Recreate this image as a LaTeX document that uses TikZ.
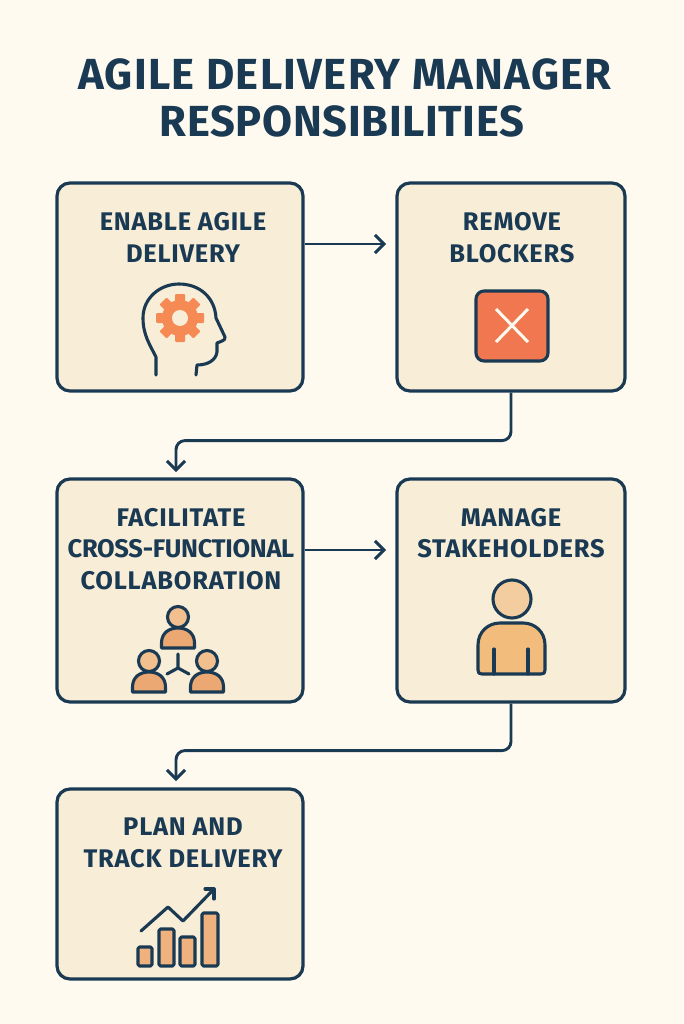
\documentclass[tikz,border=0pt]{standalone}
\usepackage{fontspec}
\setmainfont{Fira Sans}[LetterSpace=3]
\usetikzlibrary{positioning, arrows.meta}
\definecolor{navy}{HTML}{1A3A54}
\definecolor{paper}{HTML}{FFFAF0}
\definecolor{cream}{HTML}{F8EDD7}
\definecolor{coral}{HTML}{F0774F}
\definecolor{gearc}{HTML}{F58A55}
\definecolor{skin}{HTML}{F3CDA0}
\definecolor{shirt}{HTML}{F2BC7C}
\definecolor{teamhead}{HTML}{F2C08F}
\definecolor{teambody}{HTML}{EBA873}
\definecolor{barc}{HTML}{EFB27F}
\tikzset{kasten/.style={rectangle,draw=navy,fill=cream,line width=3.2pt,rounded corners=13pt},
	titel/.style={text=navy,font=\fontsize{43.5}{47}\selectfont\bfseries,align=center},
	beschr/.style={text=navy,font=\fontsize{25.5}{31.5}\selectfont\bfseries,align=center},
	pfeil/.style={draw=navy,line width=2.9pt,rounded corners=9pt,-{Straight Barb[length=9pt,width=18pt,line width=2.9pt]}},
	strich/.style={draw=navy,line width=3.1pt,line cap=round,line join=round},
	kopf/.style={strich,fill=teamhead},
	rumpf/.style={strich,fill=teambody},
	balken/.style={strich,fill=barc,rounded corners=1.5pt} }

\begin{document}
\begin{tikzpicture}[x=1pt,y=-1pt]
	\useasboundingbox (0,0) rectangle (683,1024);
	\fill [paper] (0,0) rectangle (683,1024);

	\node (head) [titel] at (345,98) {AGILE DELIVERY MANAGER\\{\addfontfeatures{LetterSpace=1.5}RESPONSIBILITIES}\hspace*{6pt}};

	\node (enable) [kasten, minimum width=246pt, minimum height=208pt] at (180,287) {};
	\node (remove) [kasten, minimum width=228pt, minimum height=208pt] at (511,287) {};
	\node (facil) [kasten, minimum width=246pt, minimum height=223pt] at (180,590.5) {};
	\node (manage) [kasten, minimum width=228pt, minimum height=223pt] at (511,590.5) {};
	\node (plan) [kasten, minimum width=246pt, minimum height=190pt] at (180,884) {};

	\node (enablet) [beschr] at (183,237.5) {ENABLE AGILE\\DELIVERY};
	\node (removet) [beschr] at (512,237.5) {REMOVE\\BLOCKERS};
	\node (facilt) [beschr] at (181,549) {FACILITATE\\{\addfontfeatures{LetterSpace=-1.2}CROSS-FUNCTIONAL}\\COLLABORATION};
	\node (managet) [beschr] at (511,533) {MANAGE\\STAKEHOLDERS};
	\node (plant) [beschr] at (183,843) {PLAN AND\\TRACK DELIVERY};

	\coordinate (e1) at (386,244);
	\coordinate (e2) at (176,472);
	\coordinate (e3) at (386,550);
	\coordinate (e4) at (176,781);
	\draw [pfeil] (enable.east |- e1) -- (e1);
	\draw [pfeil] (remove.south) -- ++(0,48) -| (e2);
	\draw [pfeil] (facil.east |- e3) -- (e3);
	\draw [pfeil] (manage.south) -- ++(0,47) -| (e4);

	% head with gear
	\draw [strich] (156,375) -- (156,357) .. controls (150,345) and (143,335) .. (143,318)
		.. controls (143,298) and (160,284) .. (179,284)
		.. controls (200,284) and (215,298) .. (216,318)
		-- (225,337) .. controls (226,339) and (225,340) .. (217,343) -- (217,352)
		.. controls (216,360) and (208,365) .. (197,365) -- (196,375);
	\foreach \w in {0,45,...,315}
		\fill [gearc, rounded corners=1pt, rotate around={\w:(180,318)}] (175,294) rectangle (185,306);
	\fill [gearc] (180,318) circle (18);
	\fill [cream] (180,318) circle (8);

	% blocker
	\draw [strich, fill=coral, rounded corners=8pt] (476,291) rectangle (548,361);
	\draw [draw=paper, line width=3pt] (496,309) -- (528,342);
	\draw [draw=paper, line width=3pt] (528,309) -- (496,342);

	% team
	\foreach \px/\py in {178/617, 149/661, 207/661} {
		\draw [kopf] (\px,\py) circle (10.5);
		\draw [rumpf] (\px-16.5,\py+31) -- (\px-16.5,\py+26)
			.. controls (\px-16.5,\py+16) and (\px-9,\py+11) .. (\px,\py+11)
			.. controls (\px+9,\py+11) and (\px+16.5,\py+16) .. (\px+16.5,\py+26)
			-- (\px+16.5,\py+31) -- cycle;
	}
	\draw [strich] (178,654) -- (178,668) (167,674) -- (178,668) -- (189,674);

	% stakeholder
	\draw [strich, fill=skin] (512,599) circle (19);
	\draw [strich, fill=shirt] (478,670) -- (478,645)
		.. controls (478,632) and (488,623) .. (500,623) -- (523,623)
		.. controls (535,623) and (545,632) .. (545,645)
		-- (545,670) .. controls (545,673) and (544,674) .. (541,674)
		-- (482,674) .. controls (479,674) and (478,673) .. (478,670) -- cycle;
	\draw [strich] (494,649) -- (494,674) (528,649) -- (528,674);

	% chart
	\draw [balken] (138,947) rectangle (152,966);
	\draw [balken] (159,929) rectangle (174,966);
	\draw [balken] (180,937) rectangle (195,966);
	\draw [balken] (202,913) rectangle (218,966);
	\draw [strich] (141,931) -- (168,907) -- (183,921) -- (214,889);
	\draw [strich] (205,889) -- (214,889) -- (214,899);
\end{tikzpicture}
\end{document}
